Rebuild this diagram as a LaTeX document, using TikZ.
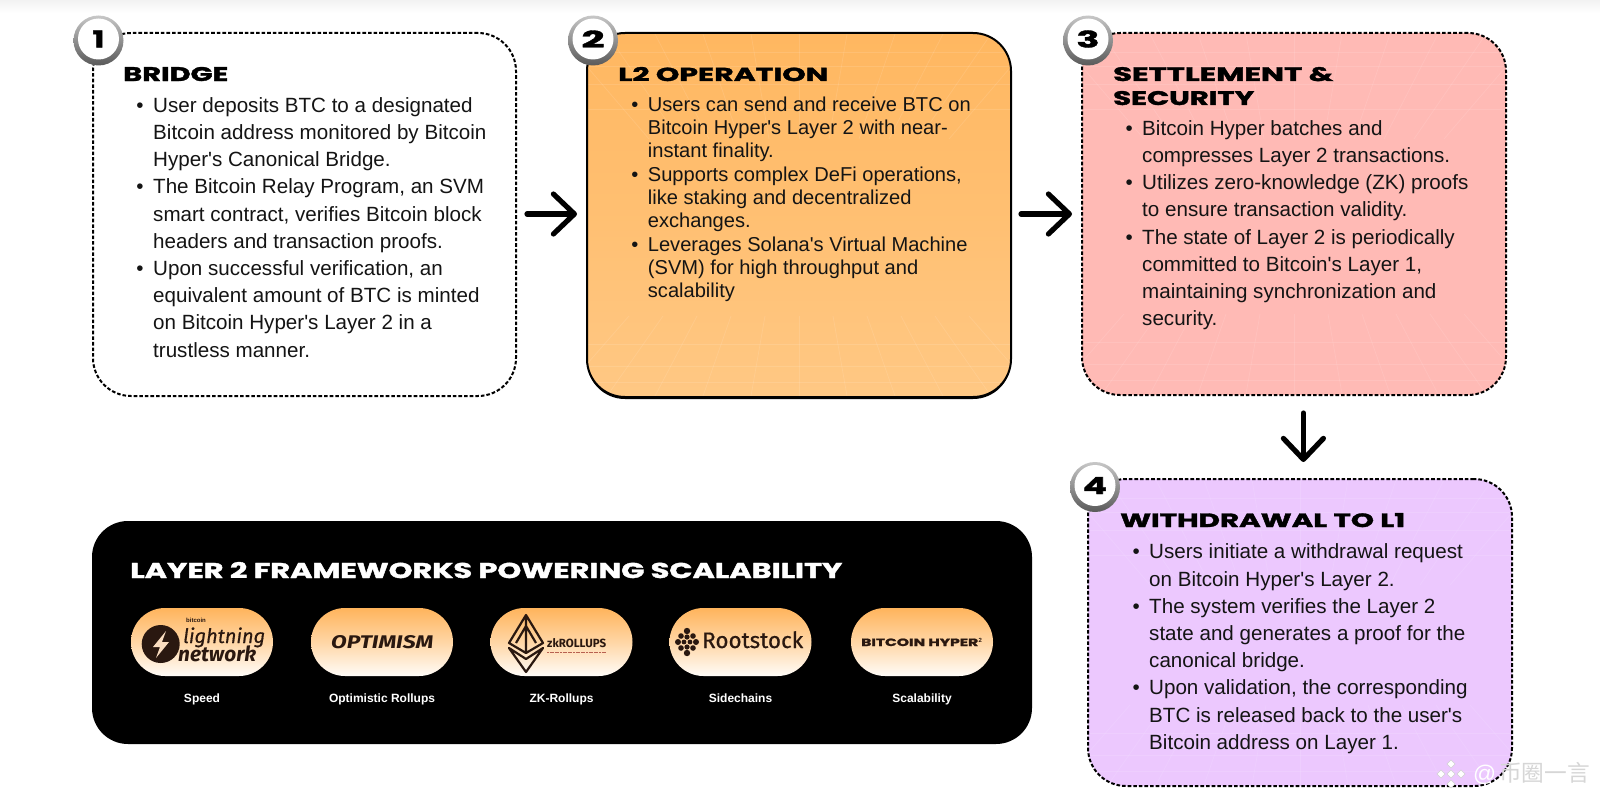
\documentclass[tikz,border=0pt]{standalone}
\usepackage{fontspec}
\usepackage{graphicx}
\usetikzlibrary{arrows.meta}
\newfontfamily\bodyfam{Liberation Sans}
\setmainfont{Liberation Sans}
\newfontfamily\headfont[BoldFeatures={FakeBold=1.6}]{Poppins}
\newfontfamily\logofont{Fira Sans}
\newfontfamily\logomed[FakeBold=0.5]{Fira Sans}
\newfontfamily\cjk{Noto Sans CJK SC}
\definecolor{ink}{HTML}{141414}
\definecolor{logoink}{HTML}{2A1810}
\newcommand{\bodyA}{\bodyfam\fontsize{20.6pt}{27.2pt}\selectfont}
\newcommand{\bodyB}{\bodyfam\fontsize{20.1pt}{23.3pt}\selectfont}
\newcommand{\fl}{\rule{0pt}{16pt}}
\newcommand{\bul}{\llap{\textbullet\hspace{9.5pt}}}
\newcommand{\head}[3]{\resizebox{#1pt}{#2pt}{\headfont\bfseries #3}}
\newcommand{\persp}[6]{%
  \begin{scope}
  \clip[rounded corners=38pt] (#1,#2) rectangle (#3,#4);
  \pgfmathsetmacro{\cx}{(#1+#3)/2}
  \foreach \i in {-5,...,5}{
    \draw[#5,opacity=#6,line width=.7pt] (\cx+\i*48,#2) -- (\cx+\i*30,#2+105);
    \draw[#5,opacity=#6,line width=.7pt] (\cx+\i*48,#4) -- (\cx+\i*34,#4-80);
  }
  \foreach \d in {18,32,50,75}{
    \draw[#5,opacity=#6,line width=.7pt] (#1,#2+\d) -- (#3,#2+\d);
  }
  \foreach \d in {14,30,52}{
    \draw[#5,opacity=#6,line width=.7pt] (#1,#4-\d) -- (#3,#4-\d);
  }
  \end{scope}}
\tikzset{
  card/.style={rounded corners=38pt,inner sep=0pt,line width=2pt,draw=black},
  dashedcard/.style={card,dash pattern=on 3.6pt off 2pt},
  flow/.style={line width=5.2pt,line cap=round,line join=round,
    -{Straight Barb[length=21pt,width=40pt,line width=5.2pt,round]}},
  heading/.style={anchor=base west,inner sep=0pt,text=black},
  bodytext/.style={anchor=north west,inner sep=0pt,align=left,text=ink},
  ring/.style={circle,inner sep=0pt,minimum size=50pt,top color=black!22,bottom color=black!65},
  face/.style={circle,inner sep=0pt,minimum size=41pt,fill=white,text=black},
  pill/.style={rounded corners=34pt,inner sep=0pt,minimum width=142pt,minimum height=68pt,
    top color={rgb,255:red,255;green,180;blue,92},
    bottom color={rgb,255:red,255;green,252;blue,248},middle color={rgb,255:red,255;green,214;blue,165}},
  pilllabel/.style={anchor=base,inner sep=0pt,text=white,font=\fontsize{12pt}{14pt}\selectfont\bfseries},
  logotext/.style={anchor=base west,inner sep=0pt,text=logoink},
}
\begin{document}
\begin{tikzpicture}[x=1pt,y=-1pt]
\useasboundingbox (0,0) rectangle (1600,800);
\fill[white] (0,0) rectangle (1600,800);
\shade[top color=black!5,bottom color=white] (0,0) rectangle (1600,13);

% cards
\node[dashedcard,fill=white,minimum width=423pt,minimum height=363pt] (b1) at (304.5,214.5) {};
\fill[black,rounded corners=38pt] (587,36) rectangle (1011,399);
\shade[rounded corners=38pt,top color={rgb,255:red,255;green,183;blue,96},bottom color={rgb,255:red,255;green,200;blue,132}] (587,33) rectangle (1011,397);
\persp{588}{34}{1010}{396}{white}{.11}
\node[card,minimum width=424pt,minimum height=364pt] (b2) at (799,215) {};
\fill[rounded corners=38pt,fill={rgb,255:red,255;green,186;blue,181}] (1082,33) rectangle (1506,395);
\persp{1083}{34}{1505}{394}{white}{.11}
\node[dashedcard,minimum width=424pt,minimum height=362pt] (b3) at (1294,214) {};
\fill[rounded corners=38pt,fill={rgb,255:red,236;green,200;blue,254}] (1088,479) rectangle (1512,786);
\persp{1089}{480}{1511}{785}{white}{.11}
\node[dashedcard,minimum width=424pt,minimum height=307pt] (b4) at (1300,632.5) {};
\node[rounded corners=36pt,fill=black,inner sep=0pt,minimum width=940pt,minimum height=223pt] (panel) at (562,632.5) {};

% badges
\node[ring] (r1) at (98.5,40.5) {};
\node[face] (n1) at (98.5,39) {\head{12}{17}{1}};
\node[ring] (r2) at (593,40.5) {};
\node[face] (n2) at (593,39) {\head{23}{17}{2}};
\node[ring] (r3) at (1088,40.5) {};
\node[face] (n3) at (1088,39) {\head{23}{17}{3}};
\node[ring] (r4) at (1095,487) {};
\node[face] (n4) at (1095,485.5) {\head{24}{17}{4}};

% headings
\node[heading] (h1) at (123,81) {\head{105}{14}{BRIDGE}};
\node[heading] (h2) at (618,81) {\head{210}{14}{L2 OPERATION}};
\node[heading] (h3a) at (1113,81) {\head{220}{14}{SETTLEMENT \&}};
\node[heading] (h3b) at (1113,105) {\head{141}{14}{SECURITY}};
\node[heading] (h4) at (1120,527) {\head{285}{14}{WITHDRAWAL TO L1}};
\node[heading,text=white] (ht) at (130,578) {\head{712}{16}{LAYER 2 FRAMEWORKS POWERING SCALABILITY}};

% bodies
\node[bodytext,font=\bodyA] (t1) at (153,96) {\fl\bul User deposits BTC to a designated\\
Bitcoin address monitored by Bitcoin\\
Hyper's Canonical Bridge.\\
\bul The Bitcoin Relay Program, an SVM\\
smart contract, verifies Bitcoin block\\
headers and transaction proofs.\\
\bul Upon successful verification, an\\
equivalent amount of BTC is minted\\
on Bitcoin Hyper's Layer 2 in a\\
trustless manner.};
\node[bodytext,font=\bodyB] (t2) at (647.7,95) {\fl\bul Users can send and receive BTC on\\
Bitcoin Hyper's Layer 2 with near-\\
instant finality.\\
\bul Supports complex DeFi operations,\\
like staking and decentralized\\
exchanges.\\
\bul Leverages Solana's Virtual Machine\\
(SVM) for high throughput and\\
scalability};
\node[bodytext,font=\bodyA] (t3) at (1142,119) {\fl\bul Bitcoin Hyper batches and\\
compresses Layer 2 transactions.\\
\bul Utilizes zero-knowledge (ZK) proofs\\
to ensure transaction validity.\\
\bul The state of Layer 2 is periodically\\
committed to Bitcoin's Layer 1,\\
maintaining synchronization and\\
security.};
\node[bodytext,font=\bodyA] (t4) at (1149,542.7) {\fl\bul Users initiate a withdrawal request\\
on Bitcoin Hyper's Layer 2.\\
\bul The system verifies the Layer 2\\
state and generates a proof for the\\
canonical bridge.\\
\bul Upon validation, the corresponding\\
BTC is released back to the user's\\
Bitcoin address on Layer 1.};

% connectors
\draw[flow] ([xshift=10pt,yshift=0.5pt]b1.east) -- ([xshift=-9pt,yshift=1pt]b2.west);
\draw[flow] ([xshift=9pt,yshift=1pt]b2.east) -- ([xshift=-9pt,yshift=0pt]b3.west);
\draw[flow] ([xshift=9.4pt,yshift=-17pt]b3.south) -- ([xshift=3.4pt,yshift=16pt]b4.north);

% pills
\node[pill] (p1) at (202,642) {};
\node[pill] (p2) at (382,642) {};
\node[pill] (p3) at (561.5,642) {};
\node[pill] (p4) at (740.5,642) {};
\node[pill] (p5) at (922,642) {};
\node[pilllabel] (l1) at (202,702) {Speed};
\node[pilllabel] (l2) at (382,702) {Optimistic Rollups};
\node[pilllabel] (l3) at (561.5,702) {ZK-Rollups};
\node[pilllabel] (l4) at (740.5,702) {Sidechains};
\node[pilllabel] (l5) at (922,702) {Scalability};

% pill 1 logo
\node[circle,fill=logoink,minimum size=38pt,inner sep=0pt] (ln) at (160.7,644) {};
\fill[black!10!orange!25!white] (166,631) -- (153,647) -- (160,647) -- (156,658) -- (169,642) -- (162,642) -- cycle;
\node[logotext] (lg1) at (183,643) {\resizebox{82pt}{!}{\logomed\itshape lightning}};
\node[logotext] (lg2) at (178,661) {\resizebox{78pt}{!}{\logofont\itshape\bfseries network}};
\node[logotext] (lg0) at (186,622) {\fontsize{6pt}{7pt}\selectfont\bfseries bitcoin};
% pill 2 logo
\node[logotext] (lg3) at (331,648) {\resizebox{102pt}{13pt}{\logofont\itshape\bfseries OPTIMISM}};
% pill 3 logo
\draw[logoink,line width=2.2pt,line join=round] (526,615) -- (509,643) -- (526,653) -- (543,643) -- cycle
  (526,615) -- (526,653) (516,643) -- (526,626) -- (536,643)
  (509,648) -- (526,672) -- (543,648) -- (526,659) -- cycle;
\node[logotext] (lg4) at (547,647) {\resizebox{59pt}{9pt}{\logofont\bfseries zkROLLUPS}};
\draw[red!45!logoink,opacity=.6,line width=1pt,dash pattern=on 2pt off .6pt] (547,652) -- (606,652);
% pill 4 logo
\foreach \px/\py/\pr in {687/631/3.2,687/637/2.6,681/636/2.8,693/636/2.8,678/642/3,696/642/3,684/642/2.4,690/642/2.4,681/648/2.8,693/648/2.8,687/647/2.6,687/653/3.2}{
  \fill[logoink] (\px,\py) circle (\pr pt);
}
\node[logotext] (lg5) at (702,648) {\resizebox{101pt}{!}{\logomed Rootstock}};
% pill 5 logo
\node[logotext] (lg6) at (861,646) {\resizebox{117pt}{7.5pt}{\headfont\bfseries BITCOIN HYPER}};
\node[logotext] (lg7) at (978.5,642) {\fontsize{6pt}{7pt}\selectfont\bfseries 2};

% watermark
\foreach \wx/\wy in {1451/764,1441/774,1461/774,1451/784,1451/774}{
  \fill[white,draw=black!18,line width=.4pt] (\wx,\wy-4) -- (\wx+4,\wy) -- (\wx,\wy+4) -- (\wx-4,\wy) -- cycle;
}
\node[anchor=base west,inner sep=0pt,text=white] (wm) at (1473,781) {\fontsize{22.7pt}{24pt}\selectfont @};
\node[anchor=base west,inner sep=0pt,text=black!16] (wmc) at (1499,781) {\fontsize{22.7pt}{24pt}\selectfont\cjk 币圈一言};
\end{tikzpicture}
\end{document}
